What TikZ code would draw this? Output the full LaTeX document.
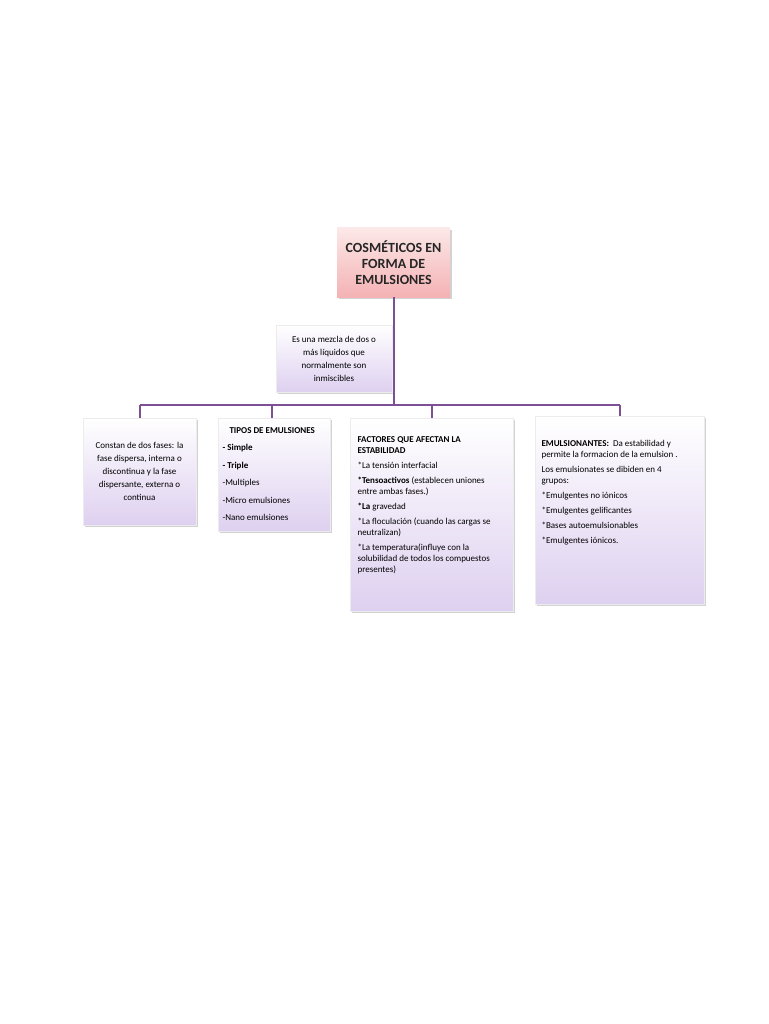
\documentclass[tikz,border=0pt]{standalone}
\usepackage{fontspec}
\setmainfont{Carlito}
\usetikzlibrary{shadows}
\definecolor{lav}{RGB}{222,208,240}
\definecolor{pinkA}{RGB}{252,232,232}
\definecolor{pinkB}{RGB}{244,178,180}
\definecolor{lnc}{RGB}{125,80,150}
\begin{document}
\begin{tikzpicture}[x=1pt,y=-1pt,
 box/.style={draw=white!85!gray,top color=white,bottom color=lav,drop shadow={shadow xshift=2pt,shadow yshift=-2pt,opacity=0.35},inner sep=0pt},
 conn/.style={draw=lnc,line width=2.2pt}]
\useasboundingbox (0,0) rectangle (768,1024);
\fill[white] (0,0) rectangle (768,1024);
% boxes
\shade[top color=pinkA,bottom color=pinkB,drop shadow={shadow xshift=2pt,shadow yshift=-2pt,opacity=0.35}] (337,228) rectangle (450,297);
\node[align=center,font=\fontsize{14}{16}\selectfont\bfseries,text=black!85] (t) at (393.5,262.5) {COSMÉTICOS EN\\FORMA DE\\EMULSIONES};
\coordinate (tb) at (394,297);
\path[box] (276,325) rectangle (392,392);
\node[align=center,font=\fontsize{9}{13}\selectfont] (d) at (334,358.5) {Es una mezcla de dos o\\más líquidos que\\normalmente son\\inmiscibles};
\path[box] (83,418) rectangle (196,525);
\path[box] (218,418) rectangle (330,531);
\path[box] (350,418) rectangle (513,611);
\path[box] (535,416) rectangle (704,604);
\node[align=center,font=\fontsize{9}{13}\selectfont] (a) at (139.5,471.5) {Constan de dos fases: la\\fase dispersa, interna o\\discontinua y la fase\\dispersante, externa o\\continua};
\node[align=left,anchor=north west,font=\fontsize{9}{17.5}\selectfont] (b) at (219,424) {\hspace*{7pt}\textbf{TIPOS DE EMULSIONES}\\\textbf{- Simple}\\\textbf{- Triple}\\-Multiples\\-Micro emulsiones\\-Nano emulsiones};
\node[align=left,anchor=north west,font=\fontsize{9}{11}\selectfont] (c) at (354,433) {\textbf{FACTORES QUE AFECTAN LA}\\\textbf{ESTABILIDAD}\\[4pt]*La tensión interfacial\\[4pt]\textbf{*Tensoactivos} (establecen uniones\\entre ambas fases.)\\[4pt]\textbf{*La} gravedad\\[4pt]*La floculación (cuando las cargas se\\neutralizan)\\[4pt]*La temperatura(influye con la\\solubilidad de todos los compuestos\\presentes)};
\node[align=left,anchor=north west,font=\fontsize{9}{11}\selectfont] (e) at (538,437) {\textbf{EMULSIONANTES:}\ \ Da estabilidad y\\permite la formacion de la emulsion .\\[4pt]Los emulsionates se dibiden en 4\\grupos:\\[4pt]*Emulgentes no iónicos\\[4pt]*Emulgentes gelificantes\\[4pt]*Bases autoemulsionables\\[4pt]*Emulgentes iónicos.};
% connectors
\coordinate (j) at (394,405);
\coordinate (l) at (140,405);
\coordinate (r) at (620,405);
\coordinate (m2) at (272,405);
\coordinate (m3) at (432,405);
\coordinate (ta) at (140,418);
\coordinate (tbb) at (272,418);
\coordinate (tc) at (432,418);
\coordinate (td) at (620,416);
\draw[conn] (tb) -- (j);
\draw[conn] (l) -- (r);
\draw[conn] (l) -- (ta);
\draw[conn] (m2) -- (tbb);
\draw[conn] (m3) -- (tc);
\draw[conn] (r) -- (td);
\end{tikzpicture}
\end{document}
